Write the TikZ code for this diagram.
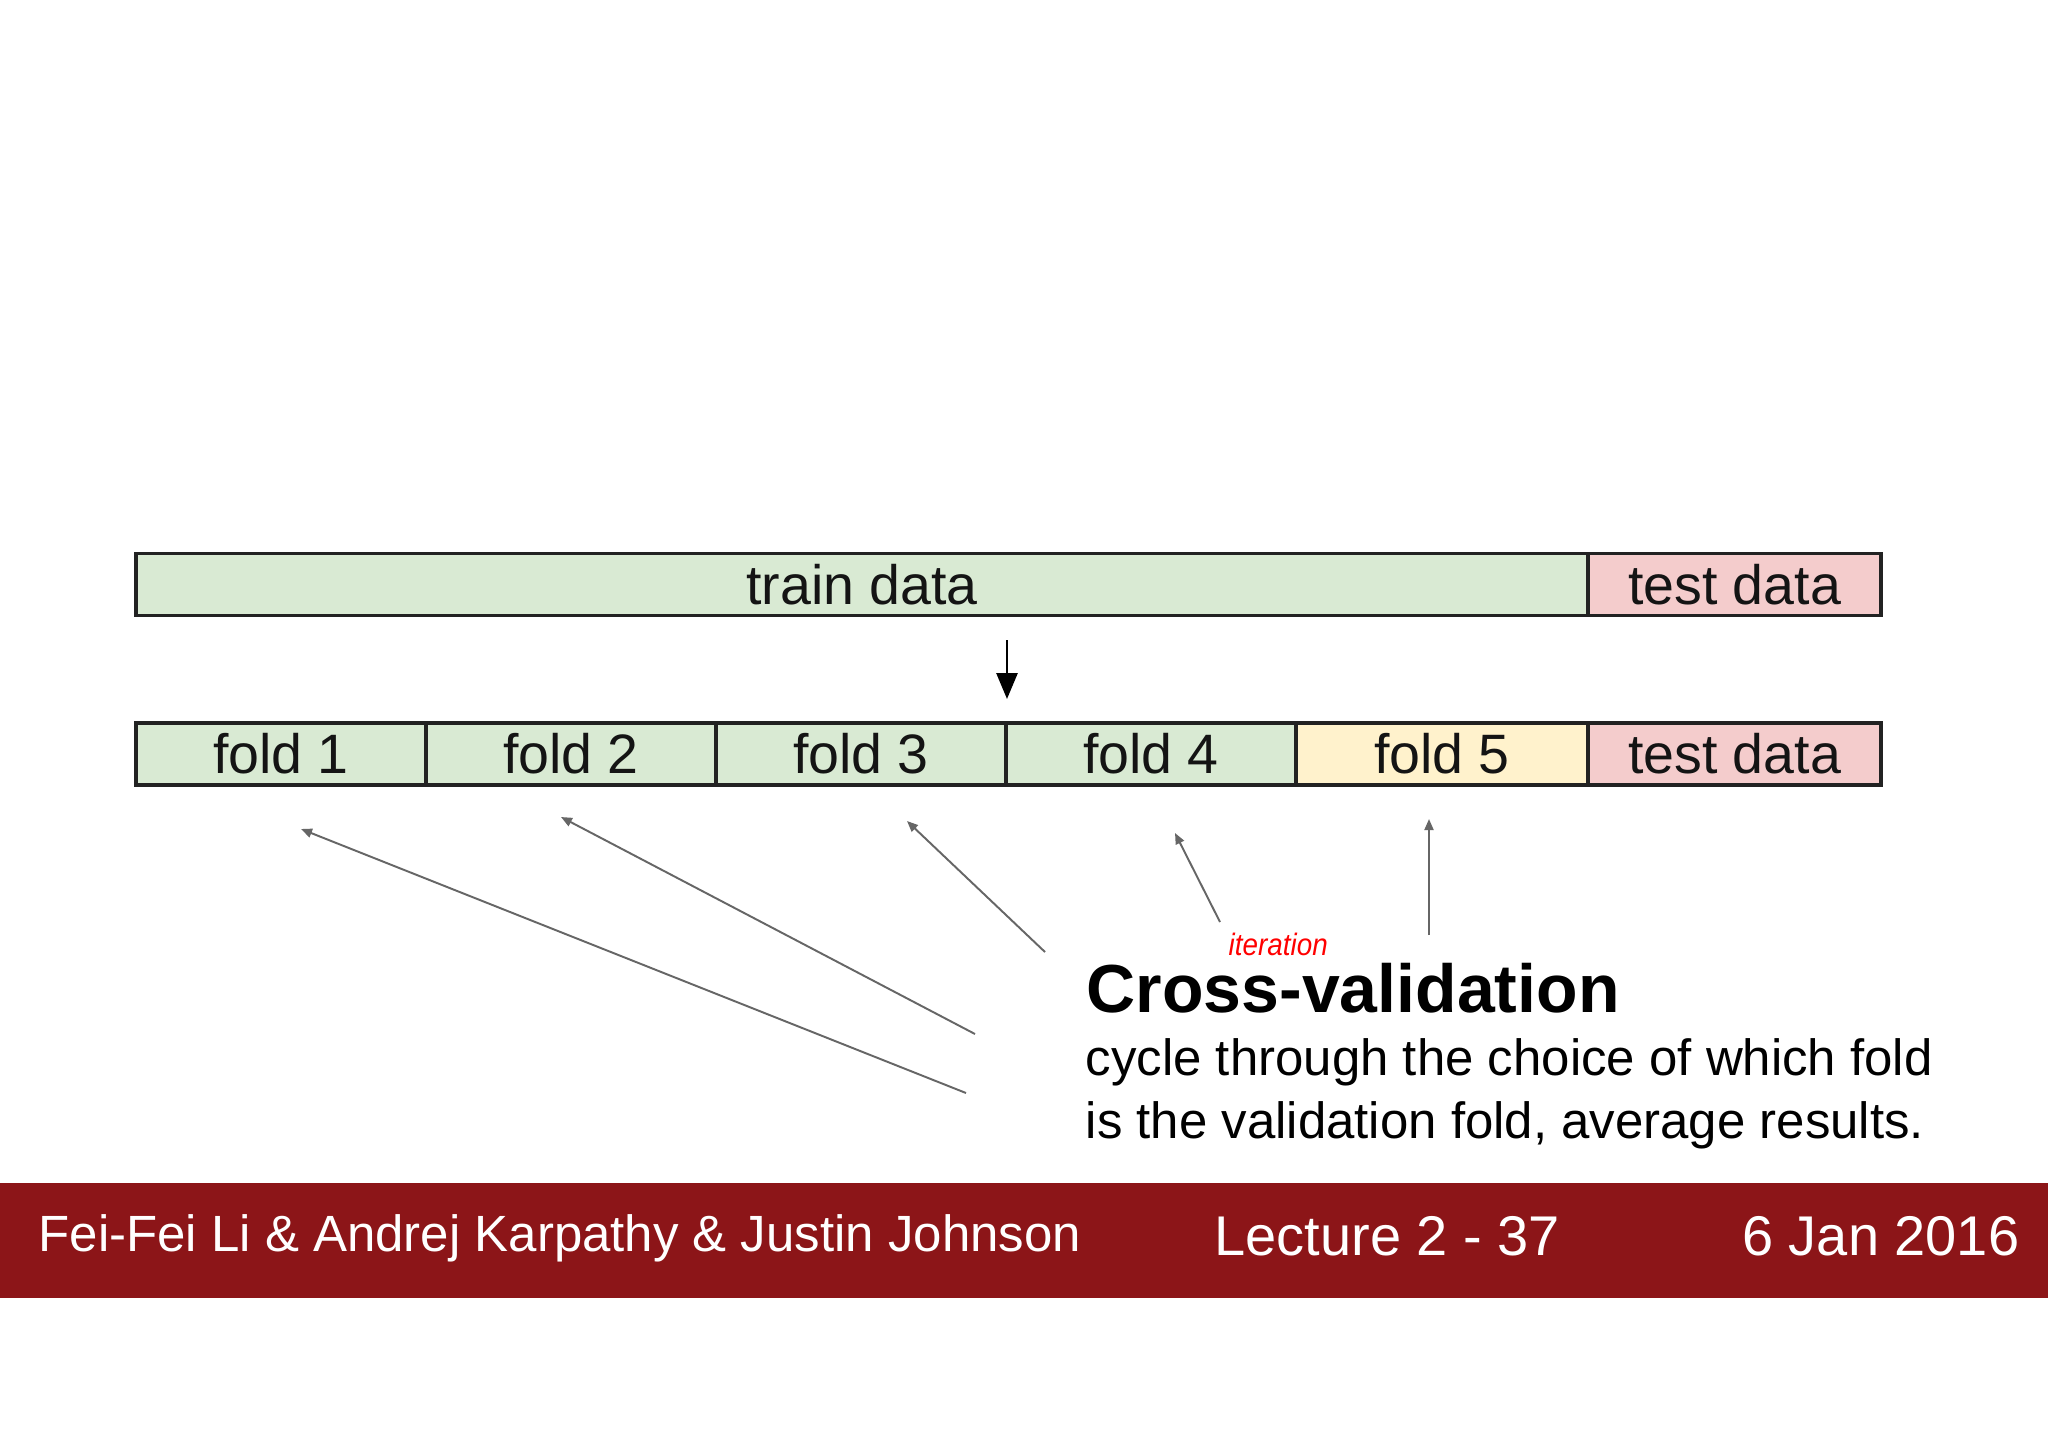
\documentclass[tikz,border=0pt]{standalone}
\usepackage{fontspec}
\setmainfont{Liberation Sans}
\newfontfamily\handfont[FakeStretch=0.9]{Liberation Sans}
\usetikzlibrary{arrows.meta}
\definecolor{trainc}{HTML}{D9EAD3}
\definecolor{testc}{HTML}{F4CCCC}
\definecolor{valc}{HTML}{FFF2CC}
\definecolor{footc}{RGB}{140,21,24}
\definecolor{arrowc}{HTML}{666666}
\definecolor{barline}{HTML}{222222}
\begin{document}
\begin{tikzpicture}[x=0.1mm,y=-0.1mm,
  bar/.style={draw=barline, line width=0.95pt, minimum height=6.2mm, inner sep=0pt,
    font=\fontsize{15.8}{18}\selectfont, text=black!92},
  txt/.style={inner sep=0pt, anchor=base west},
  pointer/.style={draw=arrowc, line width=0.55pt, -{Triangle[length=1.1mm,width=0.9mm]}},
  downarrow/.style={draw=black, line width=0.8pt, -{Triangle[length=2.6mm,width=2.1mm]}}]
\fill[white] (0,0) rectangle (2048,1447);
\useasboundingbox (0,0) rectangle (2048,1447);

% top bar
\node[bar, fill=trainc, minimum width=145.2mm] (train) at (862,584.5) {\raisebox{-0.25mm}{train data}};
\node[bar, fill=testc, minimum width=29.3mm] (test1) at (1734.5,584.5) {\raisebox{-0.25mm}{test data}};

% fold bar
\node[bar, fill=trainc, minimum width=29mm] (f1) at (281,754) {\raisebox{-0.25mm}{fold 1}};
\node[bar, fill=trainc, minimum width=29mm] (f2) at (571,754) {\raisebox{-0.25mm}{fold 2}};
\node[bar, fill=trainc, minimum width=29mm] (f3) at (861,754) {\raisebox{-0.25mm}{fold 3}};
\node[bar, fill=trainc, minimum width=29mm] (f4) at (1151,754) {\raisebox{-0.25mm}{fold 4}};
\node[bar, fill=valc, minimum width=29.2mm] (f5) at (1442,754) {\raisebox{-0.25mm}{fold 5}};
\node[bar, fill=testc, minimum width=29.3mm] (test2) at (1734.5,754) {\raisebox{-0.25mm}{test data}};

% down arrow
\coordinate (d1) at (1007,640);
\coordinate (d2) at (1007,699);
\draw[downarrow] (d1) -- (d2);

% text
\node[txt, font=\bfseries\fontsize{19.35}{22}\selectfont] (title) at (1086,1012) {Cross-validation};
\node[txt, font=\fontsize{14.5}{17}\selectfont] (l1) at (1085,1075) {cycle through the choice of which fold};
\node[txt, font=\fontsize{14.5}{17}\selectfont] (l2) at (1085,1138) {is the validation fold, average results.};
\node[txt, font=\handfont\itshape\fontsize{8.8}{10}\selectfont, text=red] (iter) at (1228,955) {iteration};

% pointers
\coordinate (a1s) at (966,1093); \coordinate (a1e) at (301,829);
\coordinate (a2s) at (975,1034); \coordinate (a2e) at (561,817);
\coordinate (a3s) at (1045,952); \coordinate (a3e) at (907,821);
\coordinate (a4s) at (1220,922); \coordinate (a4e) at (1175,833);
\coordinate (a5s) at (1429,935); \coordinate (a5e) at (1429,819);
\draw[pointer] (a1s) -- (a1e);
\draw[pointer] (a2s) -- (a2e);
\draw[pointer] (a3s) -- (a3e);
\draw[pointer] (a4s) -- (a4e);
\draw[pointer] (a5s) -- (a5e);

% footer
\fill[footc] (0,1183) rectangle (2048,1298);
\node[txt, text=white, font=\fontsize{14.5}{17}\selectfont] (auth) at (38,1251) {Fei-Fei Li \& Andrej Karpathy \& Justin Johnson};
\node[txt, text=white, font=\fontsize{15.93}{18}\selectfont] (lect) at (1214,1255) {Lecture 2 - 37};
\node[inner sep=0pt, anchor=base east, text=white, font=\fontsize{15.93}{18}\selectfont] (date) at (2020,1255) {6 Jan 2016};
\end{tikzpicture}
\end{document}
